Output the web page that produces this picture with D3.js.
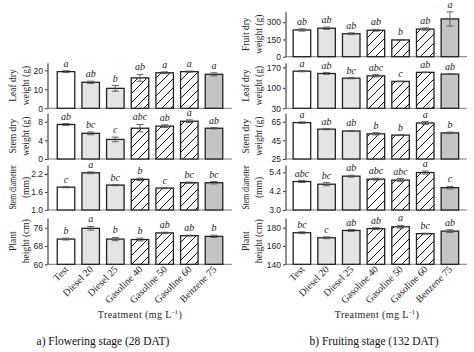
<!DOCTYPE html>
<html>
<head>
<meta charset="utf-8">
<script src="https://cdn.jsdelivr.net/npm/d3@7"></script>
<style>
body { margin: 0; background: #fff; }
svg { font-family: "Liberation Serif", "DejaVu Serif", serif; }
.tick text { font-size: 8.5px; fill: #222; }
.let { font-size: 10px; font-style: italic; fill: #222; }
</style>
</head>
<body>
<script>
var treatments = ["Test", "Diesel 20", "Diesel 25", "Gasoline 40", "Gasoline 50", "Gasoline 60", "Benzene 75"];

// a) flowering stage
var leafA = [19.3, 13.7, 10.5, 16.0, 18.7, 19.3, 17.9];
var leafAErr = [0.5, 0.6, 1.5, 1.8, 0.5, 0.3, 0.8];
var leafALet = ["a", "ab", "b", "ab", "a", "a", "a"];
var stemA = [7.4, 5.5, 4.2, 6.6, 7.05, 8.1, 6.6];
var stemAErr = [0.2, 0.3, 0.5, 0.8, 0.3, 0.3, 0.15];
var stemALet = ["ab", "bc", "c", "abc", "ab", "a", "ab"];
var diamA = [1.76, 2.24, 1.83, 2.02, 1.73, 1.91, 1.91];
var diamAErr = [0.02, 0.03, 0.02, 0.04, 0.02, 0.02, 0.04];
var diamALet = ["c", "a", "bc", "b", "c", "bc", "bc"];
var heightA = [71.0, 75.7, 71.0, 70.8, 73.7, 72.5, 72.2];
var heightAErr = [0.4, 0.8, 0.7, 0.6, 0.3, 0.2, 0.5];
var heightALet = ["b", "a", "b", "b", "ab", "ab", "b"];

// b) fruiting stage
var fruitB = [233, 248, 200, 230, 146, 241, 329];
var fruitBErr = [10, 10, 8, 8, 4, 10, 62];
var fruitBLet = ["ab", "ab", "ab", "ab", "b", "ab", "a"];
var leafB = [157, 149, 133, 141, 122, 153, 147];
var leafBErr = [2, 3, 2, 4, 1, 1, 1];
var leafBLet = ["a", "ab", "bc", "abc", "c", "ab", "ab"];
var stemB = [64, 57, 55, 52, 50.6, 63.6, 53];
var stemBErr = [0.8, 0.6, 0.6, 1.2, 0.5, 1.5, 0.8];
var stemBLet = ["a", "ab", "ab", "b", "b", "a", "b"];
var diamB = [4.81, 4.64, 5.15, 4.96, 4.9, 5.38, 4.42];
var diamBErr = [0.06, 0.1, 0.06, 0.06, 0.1, 0.1, 0.08];
var diamBLet = ["abc", "bc", "ab", "abc", "abc", "a", "c"];
var heightB = [174.5, 169, 177, 179, 181, 173.5, 176.3];
var heightBErr = [1, 1, 1, 1, 1.5, 0.5, 1.5];
var heightBLet = ["bc", "c", "ab", "ab", "a", "bc", "ab"];

var groups = ["test", "diesel", "diesel", "gasoline", "gasoline", "gasoline", "benzene"];
var fills = {test: "#ffffff", diesel: "#e4e4e4", gasoline: "url(#hatch)", benzene: "#c4c4c4"};

// rows share vertical positions across both columns
var rows = [{top: 11.7, bottom: 56.7}, {top: 62.7, bottom: 108.3}, {top: 113.3, bottom: 159},
            {top: 165, bottom: 210}, {top: 218, bottom: 264.3}];

var panels = [
  {col: 0, row: 1, v: leafA, e: leafAErr, l: leafALet, dom: [0, 24], ticks: [0, 10, 20], t: ["Leaf dry", "weight (g)"], f: d3.format("d")},
  {col: 0, row: 2, v: stemA, e: stemAErr, l: stemALet, dom: [0, 9.8], ticks: [0, 4, 8], t: ["Stem dry", "weight (g)"], f: d3.format("d")},
  {col: 0, row: 3, v: diamA, e: diamAErr, l: diamALet, dom: [1, 2.5], ticks: [1, 1.6, 2.2], t: ["Stem diameter", "(mm)"], f: d3.format(".1f")},
  {col: 0, row: 4, v: heightA, e: heightAErr, l: heightALet, dom: [60, 80.2], ticks: [60, 68, 76], t: ["Plant", "height (cm)"], f: d3.format("d")},
  {col: 1, row: 0, v: fruitB, e: fruitBErr, l: fruitBLet, dom: [0, 392], ticks: [0, 150, 300], t: ["Fruit dry", "weight (g)"], f: d3.format("d")},
  {col: 1, row: 1, v: leafB, e: leafBErr, l: leafBLet, dom: [30, 186], ticks: [30, 100, 170], t: ["Leaf dry", "weight (g)"], f: d3.format("d")},
  {col: 1, row: 2, v: stemB, e: stemBErr, l: stemBLet, dom: [25, 74], ticks: [25, 45, 65], t: ["Stem dry", "weight (g)"], f: d3.format("d")},
  {col: 1, row: 3, v: diamB, e: diamBErr, l: diamBLet, dom: [3, 5.86], ticks: [3, 4.2, 5.4], t: ["Stem diameter", "(mm)"], f: d3.format(".1f")},
  {col: 1, row: 4, v: heightB, e: heightBErr, l: heightBLet, dom: [140, 190.6], ticks: [140, 160, 180], t: ["Plant", "height (cm)"], f: d3.format("d")}
];

var cols = [
  {axis: 47.5, end: 232, band: [50.1, 229.9], t1: 13, t2: 25.5, label: 140, caption: 103, capText: "a) Flowering stage (28 DAT)"},
  {axis: 285.5, end: 467, band: [286, 465.8], t1: 245.5, t2: 258.5, label: 377, caption: 374, capText: "b) Fruiting stage (132 DAT)"}
];

var svg = d3.select("body").append("svg")
    .attr("width", 474)
    .attr("height", 352);

var pat = svg.append("defs").append("pattern")
    .attr("id", "hatch")
    .attr("patternUnits", "userSpaceOnUse")
    .attr("width", 9)
    .attr("height", 9);
pat.append("rect").attr("width", 9).attr("height", 9).attr("fill", "#fff");
pat.append("path")
    .attr("d", "M0,9 L9,0 M-2,2 L2,-2 M7,11 L11,7")
    .attr("stroke", "#111")
    .attr("stroke-width", 1);

cols.forEach(function(c) {
  c.x = d3.scaleBand().domain(treatments).range(c.band).paddingInner(0.29).paddingOuter(0.29);
});

panels.forEach(function(p) {
  var c = cols[p.col], r = rows[p.row];
  var x = c.x;
  var y = d3.scaleLinear().domain(p.dom).range([r.bottom, r.top]);
  var g = svg.append("g");

  // bottom baseline
  g.append("line")
    .attr("x1", c.axis).attr("x2", c.end)
    .attr("y1", r.bottom).attr("y2", r.bottom)
    .attr("stroke", "#777").attr("stroke-width", 1);

  var data = p.v.map(function(v, i) { return {name: treatments[i], v: v, e: p.e[i], l: p.l[i], grp: groups[i]}; });

  g.selectAll("rect.bar").data(data).enter().append("rect")
    .attr("class", "bar")
    .attr("x", function(d) { return x(d.name); })
    .attr("y", function(d) { return y(d.v); })
    .attr("width", x.bandwidth())
    .attr("height", function(d) { return r.bottom - y(d.v); })
    .attr("fill", function(d) { return fills[d.grp]; })
    .attr("stroke", "#222")
    .attr("stroke-width", 1.3);

  // error bars
  var eb = g.selectAll("g.err").data(data).enter().append("g").attr("class", "err")
    .attr("stroke", "#555").attr("stroke-width", 0.9);
  eb.append("line")
    .attr("x1", function(d) { return x(d.name) + x.bandwidth() / 2; })
    .attr("x2", function(d) { return x(d.name) + x.bandwidth() / 2; })
    .attr("y1", function(d) { return y(d.v - d.e); })
    .attr("y2", function(d) { return y(d.v + d.e); });
  [1, -1].forEach(function(s) {
    eb.append("line")
      .attr("x1", function(d) { return x(d.name) + x.bandwidth() / 2 - 3.5; })
      .attr("x2", function(d) { return x(d.name) + x.bandwidth() / 2 + 3.5; })
      .attr("y1", function(d) { return y(d.v + s * d.e); })
      .attr("y2", function(d) { return y(d.v + s * d.e); });
  });

  g.selectAll("text.let").data(data).enter().append("text")
    .attr("class", "let")
    .attr("x", function(d) { return x(d.name) + x.bandwidth() / 2; })
    .attr("y", function(d) { return y(d.v + d.e) - 4; })
    .attr("text-anchor", "middle")
    .text(function(d) { return d.l; });

  // y axis
  var ax = g.append("g")
    .attr("transform", "translate(" + c.axis + ",0)")
    .call(d3.axisLeft(y).tickValues(p.ticks).tickFormat(p.f).tickSize(2.5).tickPadding(2).tickSizeOuter(0));
  ax.select(".domain").attr("stroke", "#333").attr("stroke-width", 1.1);
  ax.selectAll(".tick line").attr("stroke", "#333");

  var my = (r.top + r.bottom) / 2;
  [c.t1, c.t2].forEach(function(tx, k) {
    var tt = g.append("text")
      .attr("transform", "translate(" + tx + "," + my + ") rotate(-90)")
      .attr("text-anchor", "middle").attr("dy", "0.35em")
      .style("font-size", "9.5px").attr("fill", "#222")
      .text(p.t[k]);
    if (p.t[k] == "Stem diameter") {
      tt.attr("textLength", 44).attr("lengthAdjust", "spacingAndGlyphs");
    }
  });
});

// category labels, titles and captions
cols.forEach(function(c) {
  svg.append("g").selectAll("text").data(treatments).enter().append("text")
    .attr("transform", function(d) {
      return "translate(" + (c.x(d) + c.x.bandwidth() / 2 + 3) + ",270) rotate(-45)";
    })
    .attr("text-anchor", "end")
    .style("font-size", "10px").attr("fill", "#222")
    .text(function(d) { return d; });

  var t = svg.append("text")
    .attr("x", c.label).attr("y", 318)
    .attr("text-anchor", "middle")
    .style("font-size", "10px").attr("fill", "#222")
    .style("letter-spacing", "0.4px");
  t.append("tspan").text("Treatment (mg L");
  t.append("tspan").attr("dy", -4).style("font-size", "7px").text("-1");
  t.append("tspan").attr("dy", 4).text(")");

  svg.append("text")
    .attr("x", c.caption).attr("y", 345)
    .attr("text-anchor", "middle")
    .style("font-size", "11.5px").attr("fill", "#111")
    .text(c.capText);
});
</script>
</body>
</html>
